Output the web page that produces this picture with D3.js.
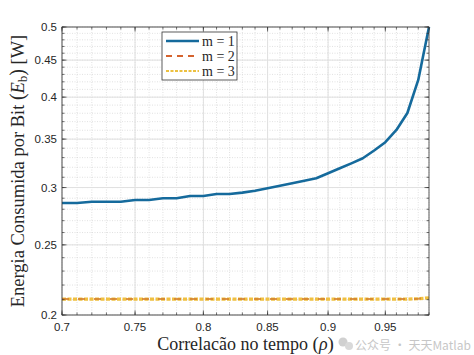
<!DOCTYPE html>
<html><head><meta charset="utf-8">
<script src="https://cdn.jsdelivr.net/npm/d3@7"></script>
<style>body{margin:0;background:#fff}svg{display:block}</style>
</head><body><svg id="c" width="474" height="355"></svg>
<script>
// ---- data ----
const rho = [0.70,0.71,0.72,0.73,0.74,0.75,0.76,0.77,0.78,0.79,0.80,0.81,0.82,0.83,0.84,0.85,0.86,0.87,0.88,0.89,0.90,0.91,0.92,0.93,0.94,0.95,0.96,0.97,0.98,0.99];
const m1 = [0.2856,0.2856,0.2868,0.2868,0.2868,0.2884,0.2884,0.2899,0.2899,0.2921,0.2921,0.2939,0.2939,0.2952,0.2970,0.2993,0.3018,0.3041,0.3065,0.3090,0.3140,0.3190,0.3240,0.3293,0.3375,0.3466,0.3603,0.3803,0.4225,0.5000];
const m2 = [0.2104,0.2104,0.2104,0.2104,0.2104,0.2104,0.2104,0.2104,0.2104,0.2104,0.2104,0.2104,0.2104,0.2104,0.2104,0.2104,0.2104,0.2104,0.2104,0.2104,0.2104,0.2104,0.2104,0.2104,0.2104,0.2104,0.2104,0.2104,0.2106,0.2112];
const m3 = [0.2104,0.2104,0.2104,0.2104,0.2104,0.2104,0.2104,0.2104,0.2104,0.2104,0.2104,0.2104,0.2104,0.2104,0.2104,0.2104,0.2104,0.2104,0.2104,0.2104,0.2104,0.2104,0.2104,0.2104,0.2104,0.2104,0.2104,0.2104,0.2106,0.2112];
const seriesNames = ["m = 1","m = 2","m = 3"];
const xTicks = [0.7,0.75,0.8,0.85,0.9,0.95];
const xTickLabels = ["0.7","0.75","0.8","0.85","0.9","0.95"];
const yTicks = [0.2,0.25,0.3,0.35,0.4,0.45,0.5];
const yTickLabels = ["0.2","0.25","0.3","0.35","0.4","0.45","0.5"];
const xMinor = d3.range(70,100).map(d=>d/100);
const yMinor = d3.range(20,51).map(d=>d/100);

// ---- layout ----
const L=62,R=429,T=27,B=315;
const svg=d3.select("#c");
const x=d3.scaleLog().domain([0.7,0.99]).range([L,R]);
const y=d3.scaleLog().domain([0.2,0.5]).range([B,T]);

const g=svg.append("g");
g.selectAll(".xm").data(xMinor).join("line")
 .attr("x1",d=>x(d)).attr("x2",d=>x(d)).attr("y1",T).attr("y2",B)
 .attr("stroke","#d4d4d4").attr("stroke-width",0.7).attr("stroke-dasharray","1,1.5");
g.selectAll(".ym").data(yMinor).join("line")
 .attr("y1",d=>y(d)).attr("y2",d=>y(d)).attr("x1",L).attr("x2",R)
 .attr("stroke","#d4d4d4").attr("stroke-width",0.7).attr("stroke-dasharray","1,1.5");
g.selectAll(".xg").data(xTicks).join("line")
 .attr("x1",d=>x(d)).attr("x2",d=>x(d)).attr("y1",T).attr("y2",B)
 .attr("stroke","#e0e0e0").attr("stroke-width",1);
g.selectAll(".yg").data(yTicks).join("line")
 .attr("y1",d=>y(d)).attr("y2",d=>y(d)).attr("x1",L).attr("x2",R)
 .attr("stroke","#e0e0e0").attr("stroke-width",1);

// lines
const line=(vals)=>d3.line().x((d,i)=>x(rho[i])).y(d=>y(d))(vals);
svg.append("clipPath").attr("id","clp").append("rect").attr("x",L).attr("y",T-2).attr("width",R-L+2).attr("height",B-T+4);
const lg=svg.append("g").attr("clip-path","url(#clp)");
lg.append("path").attr("d",line(m1)).attr("fill","none").attr("stroke","#156a9c").attr("stroke-width",2.6).attr("stroke-linejoin","round");
lg.append("path").attr("d",line(m3)).attr("fill","none").attr("stroke","#f0c040").attr("stroke-width",3.2).attr("stroke-dasharray","4,1.5");
lg.append("path").attr("d",line(m2)).attr("fill","none").attr("stroke","#d5832e").attr("stroke-width",2).attr("stroke-dasharray","7,9").attr("opacity",0.85);

// axes frame & ticks
const ax=svg.append("g");
const axisColor="#333";
function ticks(vals,len,isX){
  vals.forEach(v=>{
    if(isX){
      const xx=x(v);
      ax.append("line").attr("x1",xx).attr("x2",xx).attr("y1",B).attr("y2",B-len).attr("stroke",axisColor).attr("stroke-width",0.7);
      ax.append("line").attr("x1",xx).attr("x2",xx).attr("y1",T).attr("y2",T+len).attr("stroke",axisColor).attr("stroke-width",0.7);
    } else {
      const yy=y(v);
      ax.append("line").attr("y1",yy).attr("y2",yy).attr("x1",L).attr("x2",L+len).attr("stroke",axisColor).attr("stroke-width",0.7);
      ax.append("line").attr("y1",yy).attr("y2",yy).attr("x1",R).attr("x2",R-len).attr("stroke",axisColor).attr("stroke-width",0.7);
    }
  });
}
ticks(xMinor,2.5,true); ticks(yMinor,2.5,false);
ticks(xTicks,4.5,true); ticks(yTicks,4.5,false);
ax.append("rect").attr("x",L).attr("y",T).attr("width",R-L).attr("height",B-T).attr("fill","none").attr("stroke",axisColor).attr("stroke-width",0.8);

// tick labels
const tf="Liberation Sans, Arial, sans-serif";
svg.selectAll(".xl").data(xTicks).join("text")
 .attr("x",d=>x(d)).attr("y",331).attr("text-anchor","middle")
 .attr("font-family",tf).attr("font-size",11.5).attr("fill","#262626")
 .text((d,i)=>xTickLabels[i]);
svg.selectAll(".yl").data(yTicks).join("text")
 .attr("x",57).attr("y",d=>y(d)+4).attr("text-anchor","end")
 .attr("font-family",tf).attr("font-size",11.5).attr("fill","#262626")
 .text((d,i)=>yTickLabels[i]);

// axis titles
const xt=svg.append("text").attr("x",(L+R)/2).attr("y",350).attr("text-anchor","middle")
 .attr("font-family","Liberation Serif, serif").attr("font-size",18).attr("fill","#262626");
xt.append("tspan").text("Correlacão no tempo ");
xt.append("tspan").attr("font-size",19).text("(");
xt.append("tspan").attr("font-style","italic").text("ρ");
xt.append("tspan").attr("font-size",19).text(")");

const yt=svg.append("text").attr("transform",`translate(24,${(T+B)/2}) rotate(-90)`).attr("text-anchor","middle")
 .attr("font-family","Liberation Serif, serif").attr("font-size",18.5).attr("fill","#262626");
yt.append("tspan").text("Energia Consumida por Bit ");
yt.append("tspan").attr("font-size",20).text("(");
yt.append("tspan").attr("font-style","italic").text("E");
yt.append("tspan").attr("font-size",12.5).attr("dy",3).text("b");
yt.append("tspan").attr("font-size",20).attr("dy",-3).text(")");
yt.append("tspan").text(" [W]");

// legend
const lgx=162,lgy=32,lgw=75,lgh=48;
svg.append("rect").attr("x",lgx).attr("y",lgy).attr("width",lgw).attr("height",lgh).attr("fill","#fff").attr("stroke","#333").attr("stroke-width",0.8);
const legStyles=[{c:"#156a9c",w:2.4,d:null},{c:"#d5632e",w:2,d:"6,5"},{c:"#ecc040",w:2.2,d:"3,1.5"}];
seriesNames.forEach((n,i)=>{
  const yy=lgy+9+i*15;
  const l=svg.append("line").attr("x1",lgx+4).attr("x2",lgx+37).attr("y1",yy).attr("y2",yy)
    .attr("stroke",legStyles[i].c).attr("stroke-width",legStyles[i].w);
  if(legStyles[i].d) l.attr("stroke-dasharray",legStyles[i].d);
  svg.append("text").attr("x",lgx+40).attr("y",yy+4.5).attr("font-family","Liberation Serif, serif")
    .attr("font-size",14).attr("fill","#262626").text(n);
});

// watermark
const wm=svg.append("g").attr("opacity",0.55);
wm.append("circle").attr("cx",343).attr("cy",342).attr("r",4.5).attr("fill","#aaa");
wm.append("circle").attr("cx",349).attr("cy",346).attr("r",4).attr("fill","#bbb");
wm.append("text").attr("x",355).attr("y",350).attr("font-family","Noto Sans CJK SC, sans-serif")
 .attr("font-size",12).attr("fill","#999").text("公众号 · 天天Matlab");
</script></body></html>
